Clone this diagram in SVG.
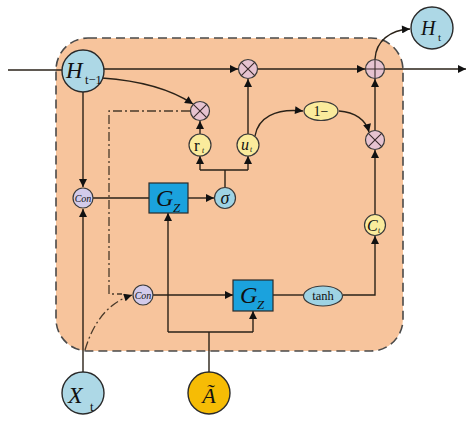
<svg xmlns="http://www.w3.org/2000/svg" width="474" height="422" viewBox="0 0 474 422">
<defs>
<marker id="ah" viewBox="0 0 10 10" refX="10" refY="5" markerWidth="9" markerHeight="8" markerUnits="userSpaceOnUse" orient="auto"><path d="M0,0 L10,5 L0,10 z" fill="#111"/></marker>
</defs>
<style>
.ln{fill:none;stroke:#2a2218;stroke-width:1.4}
.sym{fill:none;stroke:#3a2a2a;stroke-width:1.1}
.ar{marker-end:url(#ah)}
.dd{fill:none;stroke:#4a3a2a;stroke-width:1.3;stroke-dasharray:9,3,2,3}
.big{fill:#ADD8E6;stroke:#2a2a2a;stroke-width:1.4}
.op{fill:#E6C3D0;stroke:#3a3a3a;stroke-width:1.2}
.yel{fill:#FAEB9C;stroke:#3a3a3a;stroke-width:1.2}
.blu{fill:#9ED3E4;stroke:#3a3a3a;stroke-width:1.2}
.con{fill:#D3CBEA;stroke:#3a3a3a;stroke-width:1.2}
.box{fill:#1BA2DD;stroke:#2a2a2a;stroke-width:1.2}
.t{font-family:"Liberation Serif",serif;fill:#111}
.i{font-style:italic}
</style>
<rect x="56" y="38" width="347" height="313" rx="32" ry="32" fill="#F7C49C" stroke="#4a4a4a" stroke-width="1.6" stroke-dasharray="9,5"/>
<g id="connectors">
<path class="ln" d="M8,70 H62"/>
<path class="ln ar" d="M104,69 H238"/>
<path class="ln ar" d="M258,69 H365"/>
<path class="ln ar" d="M385,69 H466"/>
<path class="ln ar" d="M375,59 C376,41 390,30 410,29"/>
<path class="ln ar" d="M102,78 Q160,82 193,104"/>
<path class="dd" d="M190,111 H109 V294 H122"/>
<path class="ln ar" d="M83,92 V187"/>
<path class="ln ar" d="M83,372 V209"/>
<path class="dd ar" d="M85,350 Q98,306 132,295"/>
<path class="ln" d="M93,198 H149"/>
<path class="ln ar" d="M188,198 H214"/>
<path class="ln" d="M225,187 V170 M200,170 H248"/>
<path class="ln ar" d="M200,170 V156"/>
<path class="ln ar" d="M248,170 V156"/>
<path class="ln ar" d="M200,134 V121"/>
<path class="ln ar" d="M248,134 V79"/>
<path class="ln ar" d="M255,136 C258,118 275,108 303,111"/>
<path class="ln ar" d="M339,111 C355,112 366,120 369,132"/>
<path class="ln ar" d="M375,130 V79"/>
<path class="ln ar" d="M375,214 V150"/>
<path class="ln ar" d="M343,295 H375 V236"/>
<path class="ln" d="M273,295 H304"/>
<path class="ln ar" d="M153,295 H233"/>
<path class="ln" d="M209,372 V332 M168,332 H253"/>
<path class="ln ar" d="M168,332 V213"/>
<path class="ln ar" d="M253,332 V311"/>
</g>
<g id="H_prev">
<circle class="big" cx="83" cy="71" r="21"/>
<text class="t i" x="66" y="78" font-size="23">H</text>
<text class="t" x="85" y="84" font-size="12.5">t−1</text>
</g>
<g id="H_t">
<circle class="big" cx="432" cy="28" r="21"/>
<text class="t i" x="421" y="35" font-size="20">H</text>
<text class="t" x="438" y="41" font-size="11">t</text>
</g>
<g id="X_t">
<circle class="big" cx="83" cy="393" r="21"/>
<text class="t i" x="68" y="403" font-size="24">X</text>
<text class="t" x="90" y="411" font-size="13">t</text>
</g>
<g id="A_tilde">
<circle cx="209" cy="393" r="21" fill="#F6BC05" stroke="#2a2a2a" stroke-width="1.4"/>
<text class="t i" x="209" y="403" font-size="22" text-anchor="middle">Ã</text>
</g>
<g id="mul_top">
<circle class="op" cx="248" cy="69" r="9.5"/>
<path class="sym" d="M241.3,62.3 L254.7,75.7 M254.7,62.3 L241.3,75.7"/>
</g>
<g id="plus">
<circle class="op" cx="375" cy="69" r="9.5"/>
<path class="sym" d="M365.5,69 H384.5 M375,59.5 V78.5"/>
</g>
<g id="mul_reset">
<circle class="op" cx="200" cy="111" r="9.5"/>
<path class="sym" d="M193.3,104.3 L206.7,117.7 M206.7,104.3 L193.3,117.7"/>
</g>
<g id="mul_right">
<circle class="op" cx="375" cy="140" r="9.5"/>
<path class="sym" d="M368.3,133.3 L381.7,146.7 M381.7,133.3 L368.3,146.7"/>
</g>
<g id="r_t">
<circle class="yel" cx="200" cy="145" r="11"/>
<text class="t" x="194" y="151" font-size="17">r</text>
<text class="t i" x="202" y="153" font-size="7.5">t</text>
</g>
<g id="u_t">
<circle class="yel" cx="248" cy="145" r="11"/>
<text class="t i" x="241" y="150" font-size="16">u</text>
<text class="t i" x="250" y="152" font-size="7.5">t</text>
</g>
<g id="one_minus">
<ellipse class="yel" cx="321" cy="111" rx="17" ry="9.5"/>
<text class="t" x="321" y="116" font-size="14" text-anchor="middle">1−</text>
</g>
<g id="C_t">
<circle class="yel" cx="375" cy="225" r="10.5"/>
<text class="t i" x="367" y="231" font-size="16">C</text>
<text class="t i" x="378" y="233" font-size="7.5">t</text>
</g>
<g id="sigma">
<circle class="blu" cx="225" cy="198" r="10.5"/>
<text class="t i" x="225" y="203.5" font-size="18" text-anchor="middle">σ</text>
</g>
<g id="tanh">
<ellipse class="blu" cx="323" cy="296" rx="19.5" ry="10"/>
<text class="t" x="323" y="300" font-size="12.5" text-anchor="middle">tanh</text>
</g>
<g id="con_top">
<circle class="con" cx="83" cy="198" r="10"/>
<text class="t i" x="83" y="201.5" font-size="10" text-anchor="middle" fill="#222266">Con</text>
</g>
<g id="con_bottom">
<circle class="con" cx="143" cy="295" r="10"/>
<text class="t i" x="143" y="298.5" font-size="10" text-anchor="middle" fill="#222266">Con</text>
</g>
<g id="gz_top">
<rect class="box" x="149" y="183" width="39" height="30"/>
<text class="t i" x="156" y="206" font-size="24" fill="#0d2a4a">G</text>
<text class="t i" x="173" y="212" font-size="13" fill="#0d2a4a">Z</text>
</g>
<g id="gz_bottom">
<rect class="box" x="233" y="280" width="40" height="31"/>
<text class="t i" x="240" y="303" font-size="24" fill="#0d2a4a">G</text>
<text class="t i" x="257" y="309" font-size="13" fill="#0d2a4a">Z</text>
</g>
</svg>
